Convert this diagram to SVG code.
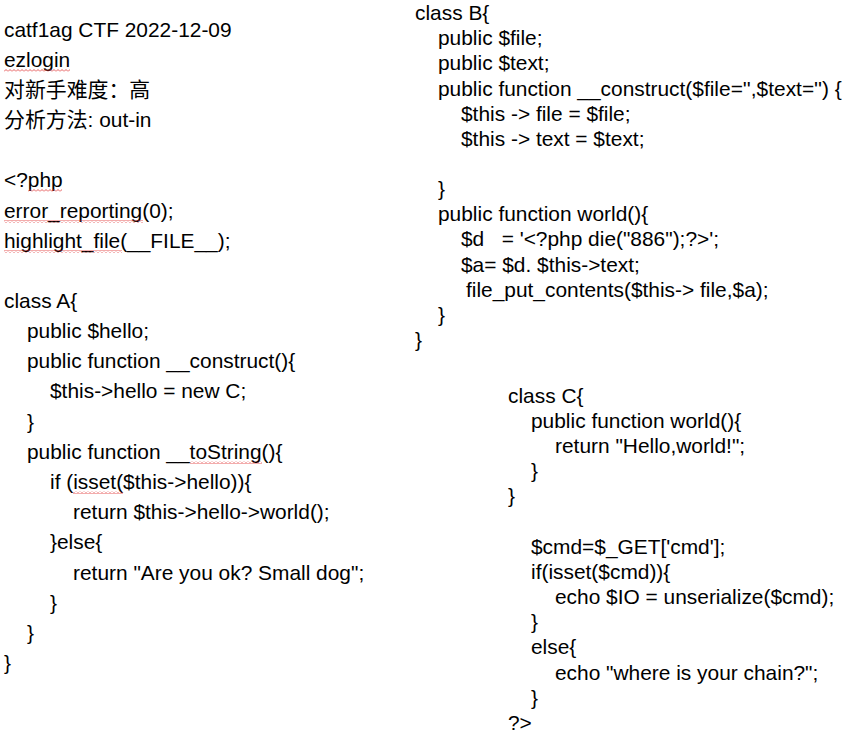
<svg xmlns="http://www.w3.org/2000/svg" width="854" height="741" viewBox="0 0 854 741">
<style>
text{font-family:"Liberation Sans","Noto Sans CJK SC",sans-serif;font-size:20.9px;fill:#000;white-space:pre}
.sq{fill:url(#wave)}
</style>
<defs>
<pattern id="wave" width="4" height="3" patternUnits="userSpaceOnUse">
<path d="M0,2.5 L2,0.5 L4,2.5" fill="none" stroke="#e03030" stroke-width="0.8"/>
</pattern>
</defs>
<rect width="854" height="741" fill="#fff"/>
<g id="left">
<text x="4" y="37">catf1ag CTF 2022-12-09</text>
<text x="4" y="67">ezlogin</text>
<text x="4" y="97">对新手难度：高</text>
<text x="4" y="127">分析方法: out-in</text>
<text x="4" y="187">&lt;?php</text>
<text x="4" y="218">error_reporting(0);</text>
<text x="4" y="248">highlight_file(__FILE__);</text>
<text x="4" y="308">class A{</text>
<text x="27" y="338">public $hello;</text>
<text x="27" y="368">public function __construct(){</text>
<text x="50" y="398">$this-&gt;hello = new C;</text>
<text x="27" y="429">}</text>
<text x="27" y="459">public function __toString(){</text>
<text x="50" y="489">if (isset($this-&gt;hello)){</text>
<text x="73" y="519">return $this-&gt;hello-&gt;world();</text>
<text x="50" y="549">}else{</text>
<text x="73" y="580">return "Are you ok? Small dog";</text>
<text x="50" y="610">}</text>
<text x="27" y="640">}</text>
<text x="4" y="670">}</text>
</g>
<g id="classB">
<text x="415" y="20">class B{</text>
<text x="438" y="45">public $file;</text>
<text x="438" y="70">public $text;</text>
<text x="438" y="96">public function __construct($file='',$text='') {</text>
<text x="461" y="121">$this -&gt; file = $file;</text>
<text x="461" y="146">$this -&gt; text = $text;</text>
<text x="438" y="196">}</text>
<text x="438" y="221">public function world(){</text>
<text x="461" y="246">$d   = '&lt;?php die("886");?&gt;';</text>
<text x="461" y="272">$a= $d. $this-&gt;text;</text>
<text x="466" y="297">file_put_contents($this-&gt; file,$a);</text>
<text x="438" y="322">}</text>
<text x="415" y="347">}</text>
</g>
<g id="classC">
<text x="508" y="403">class C{</text>
<text x="531" y="428">public function world(){</text>
<text x="555" y="453">return "Hello,world!";</text>
<text x="531" y="478">}</text>
<text x="508" y="503">}</text>
<text x="531" y="554">$cmd=$_GET['cmd'];</text>
<text x="531" y="579">if(isset($cmd)){</text>
<text x="555" y="604">echo $IO = unserialize($cmd);</text>
<text x="531" y="629">}</text>
<text x="531" y="654">else{</text>
<text x="555" y="680">echo "where is your chain?";</text>
<text x="531" y="705">}</text>
<text x="508" y="730">?&gt;</text>
</g>
<g id="squiggles">
<rect class="sq" x="4" y="69" width="66" height="3"/>
<rect class="sq" x="28" y="189" width="34" height="3"/>
<rect class="sq" x="4" y="220" width="139" height="3"/>
<rect class="sq" x="4" y="250" width="118" height="3"/>
<rect class="sq" x="73" y="491" width="50" height="3"/>
<rect class="sq" x="190" y="461" width="72" height="3"/>
</g>
</svg>
